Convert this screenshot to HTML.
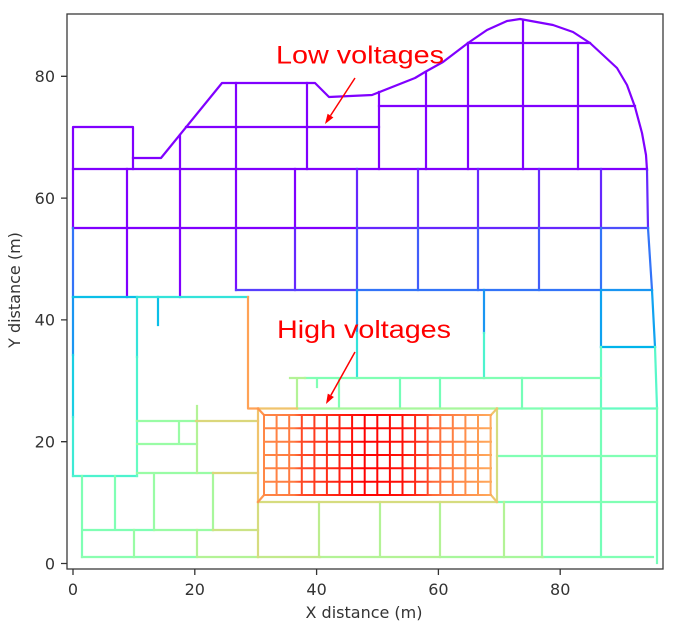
<!DOCTYPE html>
<html><head><meta charset="utf-8"><style>
html,body{margin:0;padding:0;background:#fff;}
svg{display:block;}
</style></head><body>
<svg width="680" height="633" viewBox="0 0 680 633" xmlns="http://www.w3.org/2000/svg">
<defs>
<linearGradient id="hv" gradientUnits="userSpaceOnUse" x1="258" y1="0" x2="497" y2="0">
<stop offset="0" stop-color="#ff8a48"/>
<stop offset="0.15" stop-color="#ff7a40"/>
<stop offset="0.18" stop-color="#ff4a25"/>
<stop offset="0.34" stop-color="#ff2010"/>
<stop offset="0.45" stop-color="#ff0000"/>
<stop offset="0.6" stop-color="#ff1008"/>
<stop offset="0.7" stop-color="#ff3a20"/>
<stop offset="0.73" stop-color="#ff6a38"/>
<stop offset="0.85" stop-color="#ff8a48"/>
<stop offset="1" stop-color="#ffb060"/>
</linearGradient>
</defs>
<rect width="680" height="633" fill="#fff"/>

<g fill="none" stroke-width="2.2" stroke-linejoin="round" stroke-linecap="square">
<g stroke="#8000ff">
<path d="M73,228 L73,127 L133,127 L133,169"/>
<path d="M133,158 L161,158 L222,83 L315,83 L329,97 L372,95 L415,78 L425,72 L443,62 L468,43 L487,30 L507,21 L520,19 L553,25 L573,32 L590,43 L603,55 L617,68 L627,85 L635,107 L642,133 L646,155 L647,170"/>
<path d="M186,127 L379,127 M379,106 L635,106 M468,43 L590,43 M73,169 L647,169 M73,228 L357,228"/>
<path d="M236,83 L236,228 M307,83 L307,169 M180,135 L180,297 M127,169 L127,297 M295,169 L295,228 M379,92 L379,169 M426,73 L426,169 M468,43 L468,169 M523,20 L523,169 M578,43 L578,169"/>
</g>
<g stroke="#7510ff"><path d="M236,228 L236,290"/></g>
<g stroke="#6628fe"><path d="M357,228 L601,228 M357,169 L357,228 M418,169 L418,228 M478,169 L478,228 M539,169 L539,228 M601,169 L601,228 M647,170 L648,228 M295,228 L295,290"/></g>
<g stroke="#573ffd"><path d="M236,290 L357,290"/></g>
<g stroke="#4d4ffc"><path d="M357,228 L357,290 M601,228 L648,228"/></g>
<g stroke="#425efa"><path d="M418,228 L418,290 M478,228 L478,290 M539,228 L539,290"/></g>
<g stroke="#3374f8"><path d="M357,290 L601,290 M601,228 L601,290 M648,228 L652,290 M73,228 L73,297"/></g>
<g stroke="#1a96f2"><path d="M601,290 L652,290 M357,290 L357,333 M484,290 L484,333 M73,297 L73,355"/></g>
<g stroke="#0fa2f0"><path d="M601,290 L601,347 M652,290 L655,347"/></g>
<g stroke="#00b4eb"><path d="M601,347 L655,347"/></g>
<g stroke="#0abfe8"><path d="M73,297 L137,297 M158,297 L158,325"/></g>
<g stroke="#1acee3"><path d="M73,355 L73,417"/></g>
<g stroke="#33e3da"><path d="M137,297 L248,297 M137,297 L137,357 M357,333 L357,378"/></g>
<g stroke="#3dead5"><path d="M73,417 L73,476"/></g>
<g stroke="#4df3ce"><path d="M73,476 L137,476 M137,357 L137,421 M484,333 L484,378"/></g>
<g stroke="#57f7c9"><path d="M655,347 L657,408"/></g>
<g stroke="#66fcc2"><path d="M137,421 L137,476 M601,347 L601,408.5 M601,408.5 L657,408.5"/></g>
<g stroke="#75feb8"><path d="M400,378 L400,408.5 M440,378 L440,408.5 M522,378 L522,408.5 M601,408.5 L601,557 M657,408 L657,563"/></g>
<g stroke="#80ffb4"><path d="M305,378 L601,378 M317,378 L317,387 M339,378 L339,408.5 M497,408.5 L601,408.5 M497,456 L657,456 M497,502 L657,502 M82,476 L82,557 M115,476 L115,530 M82,530 L154,530 M543,557 L653,557"/></g>
<g stroke="#8afeb0"><path d="M82,557 L197,557"/></g>
<g stroke="#99fca5"><path d="M137,421 L196,421 M179,421 L179,444 M137,444 L197,444 M137,473 L213,473 M154,473 L154,530 M154,530 L213,530 M134,530 L134,557 M542,408.5 L542,557"/></g>
<g stroke="#a8f79c"><path d="M213,473 L213,530 M297,408.5 L497,408.5 M440,557 L543,557"/></g>
<g stroke="#b3f396"><path d="M290,378 L305,378 M297,378 L297,408.5 M197,406 L197,473 M197,530 L197,557 M197,557 L258,557 M380,502 L380,557 M440,502 L440,557 M504,502 L504,557 M320,557 L440,557"/></g>
<g stroke="#bded8f"><path d="M319,502 L319,557"/></g>
<g stroke="#c2ea8c"><path d="M258,557 L320,557"/></g>
<g stroke="#cce385"><path d="M213,530 L258,530"/></g>
<g stroke="#d6dc7f"><path d="M258,502 L497,502 M497,408.5 L497,502 M258,502 L258,557"/></g>
<g stroke="#dbd77b"><path d="M196,421 L258,421 M213,473 L258,473"/></g>
<g stroke="#f0c46d"><path d="M258,408.5 L297,408.5 M258,408.5 L258,502 M497,408.5 L491,415 M497,502 L491,495"/></g>
<g stroke="#ffa256"><path d="M248,297 L248,408.5 L258,408.5"/></g>
<g stroke="#ff964f"><path d="M258,408.5 L264,415 M258,502 L264,495"/></g>

<g stroke="url(#hv)" stroke-width="2">
<path d="M264,415 L491,415 M264,428.3 L491,428.3 M264,441.7 L491,441.7 M264,455 L491,455 M264,468.3 L491,468.3 M264,481.7 L491,481.7 M264,495 L491,495"/>
<path d="M264,415V495 M276.6,415V495 M289.2,415V495 M301.8,415V495 M314.4,415V495 M326.9,415V495 M339.5,415V495 M352.1,415V495 M364.7,415V495 M377.3,415V495 M389.9,415V495 M402.5,415V495 M415.1,415V495 M427.7,415V495 M440.3,415V495 M452.8,415V495 M465.4,415V495 M478,415V495 M490.6,415V495"/>
</g>
</g>

<!-- axes frame -->
<rect x="67" y="14" width="596" height="555" fill="none" stroke="#3a3a3a" stroke-width="1.3"/>
<g stroke="#333" stroke-width="1.3">
<path d="M61,563.5H67 M61,441.7H67 M61,319.9H67 M61,198.1H67 M61,76.3H67"/>
<path d="M73,569V575 M194.8,569V575 M316.6,569V575 M438.4,569V575 M560.2,569V575"/>
</g>
<g font-family="DejaVu Sans, sans-serif" font-size="16" fill="#333">
<g text-anchor="end">
<text x="55" y="569.3">0</text>
<text x="55" y="447.5">20</text>
<text x="55" y="325.7">40</text>
<text x="55" y="203.9">60</text>
<text x="55" y="82.1">80</text>
</g>
<g text-anchor="middle">
<text x="73" y="595">0</text>
<text x="194.8" y="595">20</text>
<text x="316.6" y="595">40</text>
<text x="438.4" y="595">60</text>
<text x="560.2" y="595">80</text>
<text x="364" y="618">X distance (m)</text>
<text transform="translate(20,290) rotate(-90)">Y distance (m)</text>
</g>
</g>

<!-- annotations -->
<g font-family="Liberation Sans, Arial, sans-serif" font-size="25" fill="#ff0000">
<text x="276" y="63.5" textLength="168" lengthAdjust="spacingAndGlyphs">Low voltages</text>
<text x="277" y="338" textLength="174" lengthAdjust="spacingAndGlyphs">High voltages</text>
</g>
<g stroke="#ff0000" stroke-width="1.5" fill="none">
<path d="M355,78 L330.5,115.6"/>
<path d="M355,352 L330.9,395.3"/>
</g>
<g fill="#ff0000">
<polygon points="325,124 333.4,117.5 327.6,113.7"/>
<polygon points="326,404 333.9,397 327.8,393.6"/>
</g>
</svg>
</body></html>
